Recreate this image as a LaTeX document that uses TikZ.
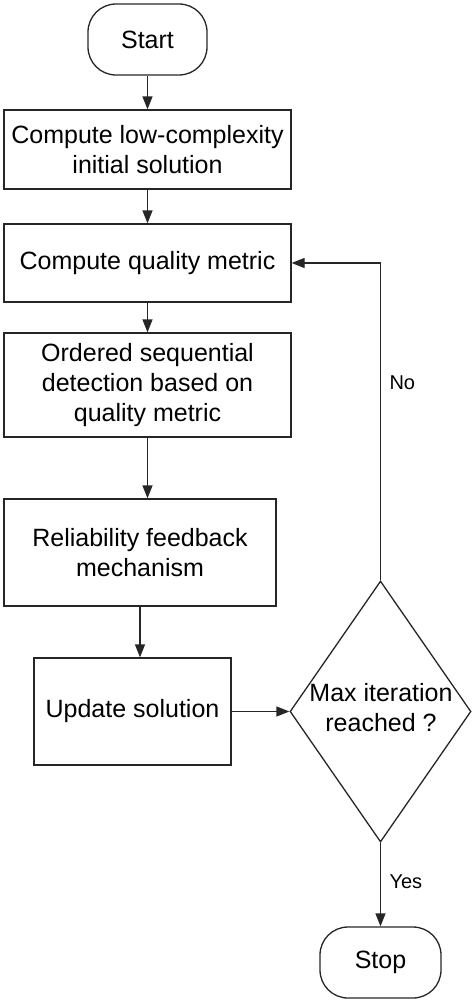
\documentclass[tikz,border=0pt]{standalone}
\usepackage{fontspec}
\setmainfont{Liberation Sans}
\usetikzlibrary{shapes.geometric,arrows.meta}
\begin{document}
\begin{tikzpicture}[x=1pt,y=-1pt,
  base/.style={draw=black!85,line width=1.3pt,align=center,inner sep=0pt,
    font=\fontsize{25}{30}\selectfont},
  term/.style={base,rounded corners=28pt},
  proc/.style={base},
  decision/.style={base,diamond,aspect=0.7},
  conn/.style={draw=black!85,line width=1.3pt,-{Triangle[length=13pt,width=10pt]}},
  lbl/.style={font=\fontsize{20}{24}\selectfont}]
\useasboundingbox (0,0) rectangle (474,1001);
\node[term,minimum width=119pt,minimum height=71pt] (start) at (147.5,39.5) {Start};
\node[proc,minimum width=287pt,minimum height=79pt] (init) at (147.5,149.5) {Compute low-complexity\\initial solution};
\node[proc,minimum width=287pt,minimum height=78pt] (qual) at (147.5,263) {Compute quality metric};
\node[proc,minimum width=287pt,minimum height=104pt] (ord) at (147.5,385) {Ordered sequential\\detection based on\\quality metric};
\node[proc,minimum width=272pt,minimum height=107pt] (rel) at (140,552.5) {Reliability feedback\\mechanism};
\node[proc,minimum width=197pt,minimum height=107pt] (upd) at (132.5,711.5) {Update solution};
\node[decision,minimum width=181pt,minimum height=261pt] (dec) at (380.5,711.5) {};
\node[font=\fontsize{25}{30}\selectfont,align=center,inner sep=0pt] (dectext) at (381,708) {Max iteration\\reached ?};
\node[term,minimum width=121pt,minimum height=71pt] (stop) at (380.5,962.5) {Stop};
\draw[conn] (start.south) -- (init.north);
\draw[conn] (init.south) -- (qual.north);
\draw[conn] (qual.south) -- (ord.north);
\draw[conn] (ord.south) -- (ord.south |- rel.north);
\draw[conn] (rel.south) -- (rel.south |- upd.north);
\draw[conn] (upd.east) -- (dec.west);
\draw[conn] (dec.north) |- (qual.east);
\draw[conn] (dec.south) -- (stop.north);
\node[lbl,anchor=west] (no) at (386,383) {No};
\node[lbl,anchor=west] (yes) at (386,882) {Yes};
\end{tikzpicture}
\end{document}
